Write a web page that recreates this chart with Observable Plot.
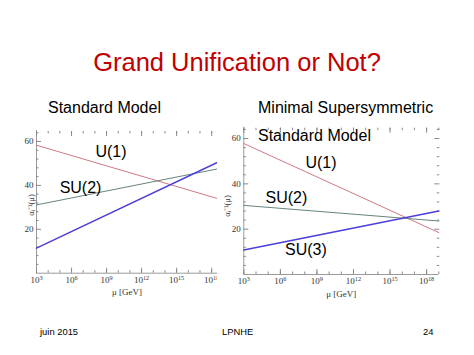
<!DOCTYPE html>
<html><head><meta charset="utf-8">
<script src="https://cdn.jsdelivr.net/npm/d3@7"></script>
<script src="https://cdn.jsdelivr.net/npm/@observablehq/plot@0.6"></script>
<style>
html,body{margin:0;padding:0;background:#fff;}
#slide{position:relative;width:474px;height:355px;overflow:hidden;font-family:"Liberation Sans",Arial,sans-serif;background:#fff;}
.t{position:absolute;white-space:nowrap;line-height:1;color:#000;}
.wrap{position:absolute;overflow:hidden;}
</style></head><body>
<div id="slide">
  <div class="t" style="left:0;width:474px;text-align:center;top:50.4px;font-size:25.5px;color:#c00000;">Grand Unification or Not?</div>
  <div class="t" style="left:48px;top:99.5px;font-size:16px;">Standard Model</div>
  <div id="left" class="wrap" style="left:0;top:120px;width:217px;height:190px;"></div>
  <div id="right" class="wrap" style="left:220px;top:110px;width:254px;height:190px;"></div>
  <div class="t" style="left:258px;top:99.5px;font-size:16px;">Minimal Supersymmetric</div>
  <div class="t" style="left:258px;top:128.2px;font-size:16px;">Standard Model</div>
  <div class="t" style="left:40px;top:327px;font-size:9.4px;">juin 2015</div>
  <div class="t" style="left:222px;top:327px;font-size:9.4px;">LPNHE</div>
  <div class="t" style="left:423px;top:327px;font-size:9.4px;">24</div>
</div>
<script>
// ---- data ----
const groups = ["U(1)", "SU(2)", "SU(3)"];
const colors = ["#cf7a82", "#66857a", "#4a3fd8"];

// Standard Model running couplings (inverse), endpoints
const smMu = [1e3, 10 ** 18.5];
const smU1 = [58.3, 34.0];
const smSU2 = [31.1, 47.5];
const smSU3 = [11.4, 50.5];

// Minimal Supersymmetric Standard Model
const mssmMu = [1e3, 1e19];
const mssmU1 = [57.8, 18.5];
const mssmSU2 = [30.5, 23.6];
const mssmSU3 = [10.8, 28.0];

// annotation labels
const smLabelNames = ["U(1)", "SU(2)"];
const smLabelMu = [10 ** 9.38, 10 ** 6.77];
const smLabelAlpha = [55.4, 38.8];
const mssmLabelNames = ["U(1)", "SU(2)", "SU(3)"];
const mssmLabelMu = [10 ** 9.33, 10 ** 6.5, 10 ** 8.1];
const mssmLabelAlpha = [49.1, 34.0, 10.7];

// ticks
const xTickExp = [3, 6, 9, 12, 15, 18];
const xMinorExp = [3,4,5,6,7,8,9,10,11,12,13,14,15,16,17,18,19];
const yTicks = [20, 40, 60];
const yMinor = [4, 8, 12, 16, 24, 28, 32, 36, 44, 48, 52, 56, 64];
const yDomain = [0, 65];
const xLabel = "μ [GeV]";
const yLabel = "αᵢ⁻¹(μ)";

function rows(mu, series) {
  return series.flatMap((vals, i) => mu.map((m, j) => ({g: groups[i], mu: m, a: vals[j]})));
}

function chart({el, width, height, margins, xDomain, series, mu, labels, rightAxis, yLabelDx, yLabelDy}) {
  const inDom = e => 10 ** e >= xDomain[0] && 10 ** e <= xDomain[1] * 1.0001;
  const maj = xTickExp.filter(inDom).map(e => 10 ** e);
  const min = xMinorExp.filter(inDom).map(e => 10 ** e);
  const data = rows(mu, series);
  const tk = {stroke: "#8a8a8a", label: null, tickFormat: () => ""};
  const marks = [
    Plot.ruleY([yDomain[0]], {stroke: "#9a9a9a"}),
    Plot.ruleX([xDomain[0]], {stroke: "#9a9a9a"}),
    Plot.axisX({...tk, anchor: "bottom", ticks: maj, tickSize: -5}),
    Plot.axisX({...tk, anchor: "bottom", ticks: min, tickSize: -2.5}),
    Plot.axisX({...tk, anchor: "top", ticks: maj, tickSize: -5}),
    Plot.axisX({...tk, anchor: "top", ticks: min, tickSize: -2.5}),
    Plot.axisY({...tk, anchor: "left", ticks: yTicks, tickSize: -5}),
    Plot.axisY({...tk, anchor: "left", ticks: yMinor, tickSize: -2.5}),
    Plot.axisX({anchor: "bottom", ticks: maj, tickSize: 0, tickPadding: 3, label: null,
      tickFormat: d => "E" + String(Math.round(Math.log10(d))), fill: "#333",
      fontFamily: "Liberation Serif, serif", fontSize: 9}),
    Plot.axisY({anchor: "left", ticks: yTicks, tickSize: 0, tickPadding: 3, label: null,
      fill: "#333", fontFamily: "Liberation Serif, serif", fontSize: 9}),
    Plot.text([xLabel], {frameAnchor: "bottom", dy: 22, fill: "#333",
      fontFamily: "Liberation Serif, serif", fontSize: 9}),
    Plot.text([yLabel], {frameAnchor: "left", rotate: -90, dx: yLabelDx, dy: yLabelDy, fill: "#333",
      fontFamily: "Liberation Serif, serif", fontSize: 8.5})
  ];
  if (rightAxis) {
    marks.push(Plot.axisY({...tk, anchor: "right", ticks: yTicks, tickSize: -5}));
    marks.push(Plot.axisY({...tk, anchor: "right", ticks: yMinor, tickSize: -2.5}));
  }
  groups.forEach((g, i) => {
    marks.push(Plot.line(data.filter(d => d.g === g), {x: "mu", y: "a", stroke: colors[i],
      strokeWidth: g === "SU(3)" ? 1.5 : 1}));
  });
  marks.push(Plot.text(labels.names.map((n, i) => ({n, mu: labels.mu[i], a: labels.alpha[i]})),
    {x: "mu", y: "a", text: "n", fontSize: 16, fill: "#000",
     fontFamily: "Liberation Sans, Arial, sans-serif", textAnchor: "middle", lineAnchor: "middle"}));

  const svg = Plot.plot({
    width, height, ...margins,
    style: {background: "transparent", overflow: "visible"},
    x: {type: "log", domain: xDomain},
    y: {domain: yDomain},
    marks
  });
  // remove empty tick-label texts from tick-mark-only axes; superscript exponents
  d3.select(svg).selectAll('g[aria-label$="tick label"] text').each(function() {
    const t = d3.select(this);
    const s = t.text();
    if (s === "") { t.remove(); return; }
    if (s[0] === "E") {
      t.text(null);
      t.append("tspan").text("10");
      t.append("tspan").attr("dy", "-0.45em").attr("font-size", "70%").text(s.slice(1));
    }
  });
  document.getElementById(el).appendChild(svg);
}

chart({
  el: "left", width: 217, height: 190,
  margins: {marginLeft: 36, marginRight: 0, marginTop: 10, marginBottom: 37.3},
  xDomain: [smMu[0], smMu[1]], mu: smMu, series: [smU1, smSU2, smSU3],
  labels: {names: smLabelNames, mu: smLabelMu, alpha: smLabelAlpha},
  rightAxis: false, yLabelDx: -5, yLabelDy: 14
});
chart({
  el: "right", width: 254, height: 190,
  margins: {marginLeft: 23.3, marginRight: 35.7, marginTop: 16.7, marginBottom: 26},
  xDomain: [mssmMu[0], mssmMu[1]], mu: mssmMu, series: [mssmU1, mssmSU2, mssmSU3],
  labels: {names: mssmLabelNames, mu: mssmLabelMu, alpha: mssmLabelAlpha},
  rightAxis: true, yLabelDx: -17, yLabelDy: 16
});
</script>
</body></html>
